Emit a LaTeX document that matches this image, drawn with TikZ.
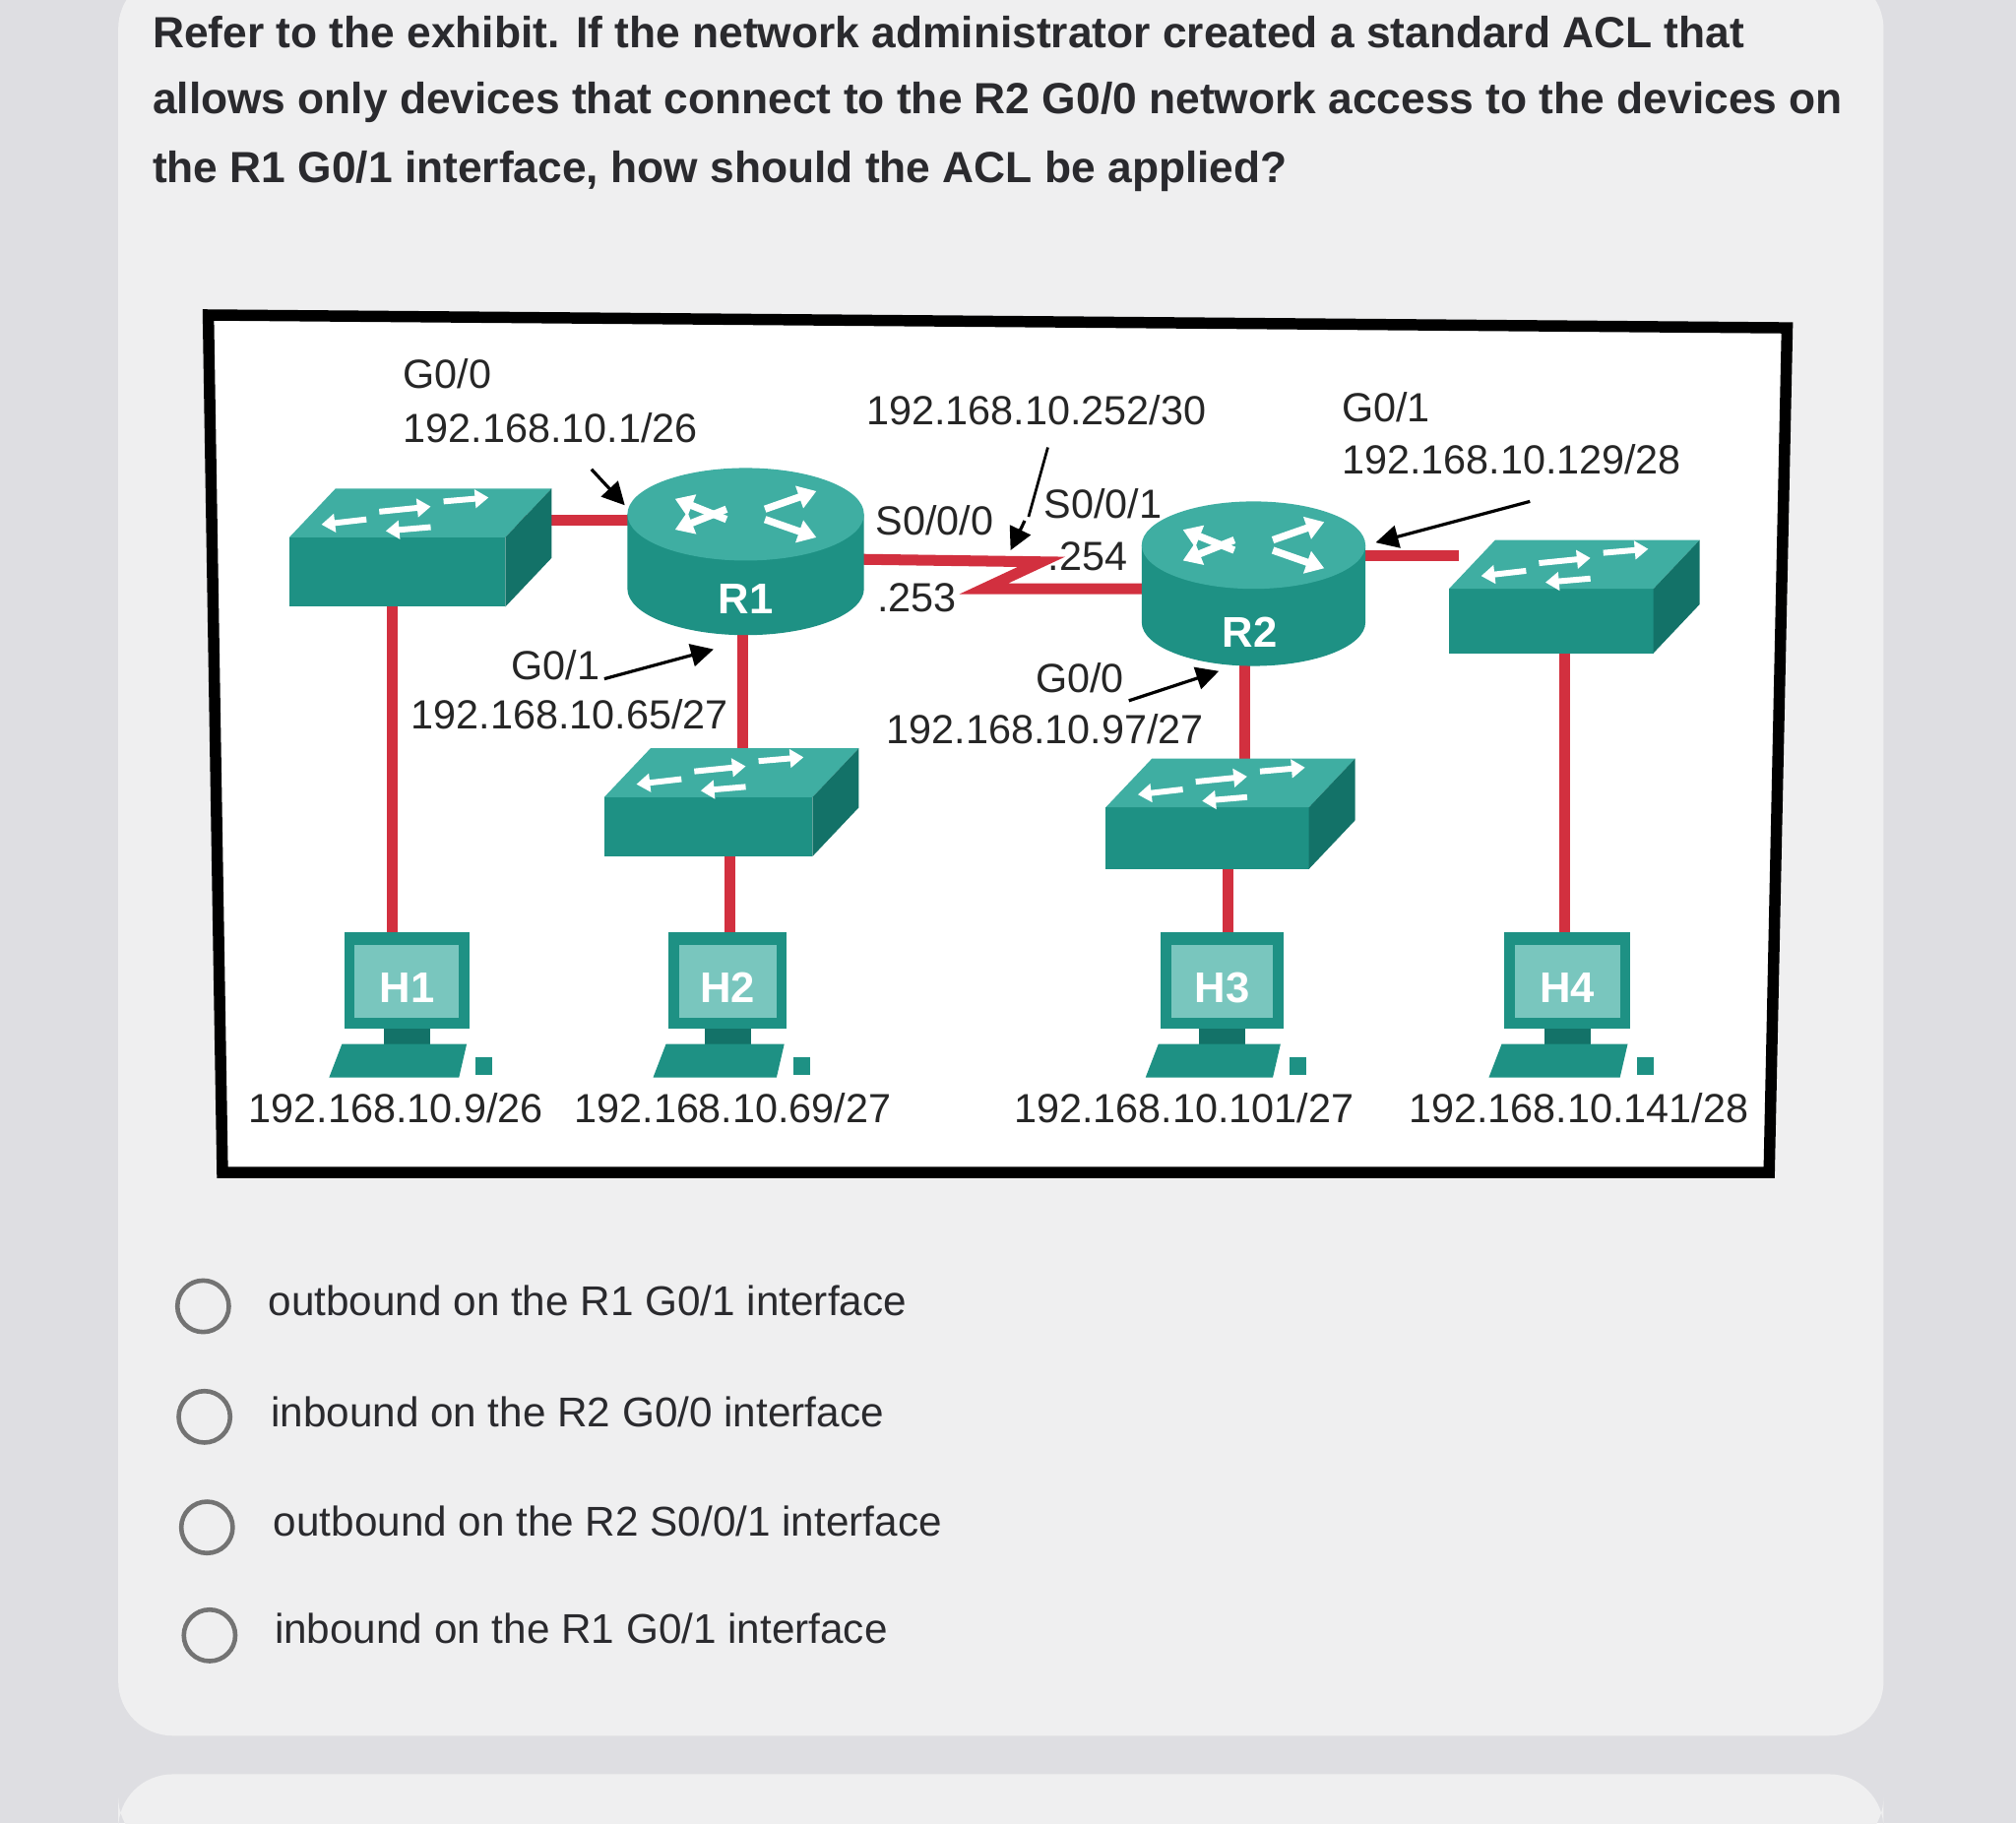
\documentclass[tikz,border=0pt]{standalone}
\usepackage{fontspec}
\setmainfont{Liberation Sans}
\usetikzlibrary{arrows.meta,calc}
\definecolor{bg}{HTML}{DEDEE2}
\definecolor{card}{HTML}{EFEFF0}
\definecolor{qtext}{HTML}{2A2A2E}
\definecolor{ttop}{HTML}{3FAEA2}
\definecolor{tfront}{HTML}{1E9184}
\definecolor{tside}{HTML}{137268}
\definecolor{lnk}{HTML}{D2303F}
\tikzset{
 lab/.style={font=\fontsize{9}{10}\selectfont, text=black!85, inner sep=0pt},
 qst/.style={font=\bfseries\fontsize{9.65}{12}\selectfont, text=qtext, anchor=west, inner sep=0pt},
 opt/.style={font=\fontsize{9.2}{11}\selectfont, text=qtext, anchor=west, inner sep=0pt},
 radio/.style={circle, draw=black!55, line width=1pt, minimum size=0.4cm, inner sep=0pt},
 link/.style={draw=lnk, line width=2.4pt},
 ptr/.style={draw=black, line width=0.7pt, -{Triangle[length=5pt,width=5pt]}},
 warr/.style={draw=white, line width=1.6pt, -{Triangle[length=4pt,width=5pt]}},
 dlab/.style={font=\bfseries\fontsize{9.5}{10}\selectfont, text=white, inner sep=0pt},
}
\newcommand{\swb}[4]{%
 \fill[tfront] (#1,#2) rectangle (#3,#4);
 \fill[ttop] (#1,#2) -- (#1+36,#2-38) -- (#3+36,#2-38) -- (#3,#2) -- cycle;
 \fill[tside] (#3,#2) -- (#3+36,#2-38) -- (#3+36,#4-38) -- (#3,#4) -- cycle;
 \draw[white, line width=1.3pt,-{Triangle[length=3pt,width=4pt]}] (#1+60,#2-14) -- (#1+25,#2-10);
 \draw[white, line width=1.3pt,-{Triangle[length=3pt,width=4pt]}] (#1+70,#2-20) -- (#1+110,#2-24);
 \draw[white, line width=1.3pt,-{Triangle[length=3pt,width=4pt]}] (#1+120,#2-28) -- (#1+155,#2-31);
 \draw[white, line width=1.3pt,-{Triangle[length=3pt,width=4pt]}] (#1+110,#2-8) -- (#1+75,#2-5);
}
\newcommand{\rtr}[5]{%
 \fill[tfront] (#1-#3,#2) -- (#1-#3,#2+#5) arc[start angle=180,end angle=360,x radius=#3,y radius=-#4] -- (#1+#3,#2) -- cycle;
 \fill[ttop] (#1,#2) ellipse[x radius=#3, y radius=#4];
 \draw[warr] (#1-15,#2-4) -- (#1-55,#2+12);
 \draw[warr] (#1-15,#2+4) -- (#1-55,#2-12);
 \draw[warr] (#1+15,#2-4) -- (#1+55,#2-18);
 \draw[warr] (#1+15,#2+4) -- (#1+55,#2+18);
}
\newcommand{\pc}[3]{%
 \fill[tfront] (#1,725) rectangle (#2,800);
 \fill[ttop!70] (#1+8,735) rectangle (#2-8,792);
 \node[dlab] at ({(#1+#2)/2},768) {#3};
 \fill[tside] ({(#1+#2)/2-18},800) rectangle ({(#1+#2)/2+18},812);
 \fill[tfront] (#1-12,838) -- (#1-2,812) -- (#2-2,812) -- (#2-8,838) -- cycle;
 \fill[tfront] (#2+5,822) rectangle (#2+18,836);
}
\begin{document}
\begin{tikzpicture}[x=0.01cm,y=-0.01cm]
\useasboundingbox (0,0) rectangle (1568,1418);
\fill[bg] (0,0) rectangle (1568,1418);
\fill[card, rounded corners=12] (92,-20) rectangle (1465,1350);
\fill[card, rounded corners=12] (92,1380) rectangle (1465,1440);
\node[qst] (q1) at (118,25) {Refer to the exhibit. If the network administrator created a standard ACL that};
\node[qst] (q2) at (118,80) {allows only devices that connect to the R2 G0/0 network access to the devices on};
\node[qst] (q3) at (118,133) {the R1 G0/1 interface, how should the ACL be applied?};
\fill[white] (162,245) -- (1390,255) -- (1376,912) -- (173,912) -- cycle;
\draw[black, line width=2.5pt] (162,245) -- (1390,255) -- (1376,912) -- (173,912) -- cycle;
\coordinate (sw1r) at (395,405); \coordinate (r1l) at (495,405);
\coordinate (sw1b) at (305,470); \coordinate (h1t) at (305,728);
\coordinate (r1b) at (578,480); \coordinate (sw2t) at (578,585);
\coordinate (sw2b) at (568,665); \coordinate (h2t) at (568,728);
\coordinate (r1s) at (668,435); \coordinate (z1) at (810,437); \coordinate (z2) at (765,458); \coordinate (r2s) at (892,458);
\coordinate (r2r) at (1058,432); \coordinate (sw4l) at (1135,432);
\coordinate (r2b) at (968,510); \coordinate (sw3t) at (968,595);
\coordinate (sw3b) at (955,675); \coordinate (h3t) at (955,728);
\coordinate (sw4b) at (1217,505); \coordinate (h4t) at (1217,728);
\draw[link] (sw1r) -- (r1l);
\draw[link] (sw1b) -- (h1t);
\draw[link] (r1b) -- (sw2t);
\draw[link] (sw2b) -- (h2t);
\draw[link] (r1s) -- (z1) -- (z2) -- (r2s);
\draw[link] (r2r) -- (sw4l);
\draw[link] (r2b) -- (sw3t);
\draw[link] (sw3b) -- (h3t);
\draw[link] (sw4b) -- (h4t);
\swb{225}{418}{393}{472}
\swb{470}{620}{632}{666}
\swb{860}{628}{1018}{676}
\swb{1127}{458}{1286}{508}
\rtr{580}{400}{92}{36}{58}
\rtr{975}{424}{87}{34}{60}
\node[dlab] (r1) at (580,466) {R1};
\node[dlab] (r2) at (972,492) {R2};
\pc{268}{365}{H1}
\pc{520}{612}{H2}
\pc{903}{998}{H3}
\pc{1170}{1268}{H4}
\node[lab, anchor=west] (l1) at (313,291) {G0/0};
\node[lab, anchor=west] (l2) at (313,333) {192.168.10.1/26};
\coordinate (a1s) at (460,365); \coordinate (a1e) at (486,393);
\draw[ptr] (a1s) -- (a1e);
\node[lab] (l3) at (806,319) {192.168.10.252/30};
\coordinate (sl1) at (815,348); \coordinate (sl2) at (800,402);
\draw[black, line width=0.6pt] (sl1) -- (sl2);
\coordinate (a2s) at (797,405); \coordinate (a2e) at (786,428);
\draw[ptr] (a2s) -- (a2e);
\node[lab] (l4) at (727,405) {S0/0/0};
\node[lab] (l5) at (858,392) {S0/0/1};
\node[lab] (l6) at (846,433) {.254};
\node[lab] (l7) at (713,465) {.253};
\node[lab, anchor=west] (l8) at (1043,317) {G0/1};
\node[lab, anchor=west] (l9) at (1043,357) {192.168.10.129/28};
\coordinate (a3s) at (1190,390); \coordinate (a3e) at (1070,422);
\draw[ptr] (a3s) -- (a3e);
\node[lab] (l10) at (432,517) {G0/1};
\coordinate (a4s) at (470,528); \coordinate (a4e) at (555,505);
\draw[ptr] (a4s) -- (a4e);
\node[lab] (l11) at (443,556) {192.168.10.65/27};
\node[lab] (l12) at (840,527) {G0/0};
\coordinate (a5s) at (878,545); \coordinate (a5e) at (948,522);
\draw[ptr] (a5s) -- (a5e);
\node[lab] (l13) at (813,567) {192.168.10.97/27};
\node[lab] (b1) at (308,862) {192.168.10.9/26};
\node[lab] (b2) at (570,862) {192.168.10.69/27};
\node[lab] (b3) at (921,862) {192.168.10.101/27};
\node[lab] (b4) at (1228,862) {192.168.10.141/28};
\node[radio] (c1) at (158,1016) {}; \node[opt] (o1) at (208,1012) {outbound on the R1 G0/1 interface};
\node[radio] (c2) at (159,1102) {}; \node[opt] (o2) at (210,1098) {inbound on the R2 G0/0 interface};
\node[radio] (c3) at (161,1188) {}; \node[opt] (o3) at (212,1183) {outbound on the R2 S0/0/1 interface};
\node[radio] (c4) at (163,1272) {}; \node[opt] (o4) at (213,1267) {inbound on the R1 G0/1 interface};
\end{tikzpicture}
\end{document}
